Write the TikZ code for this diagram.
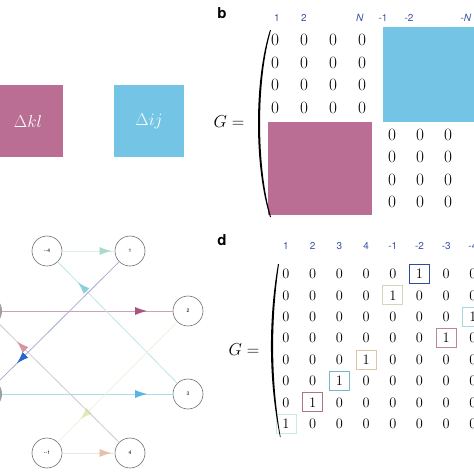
\documentclass[tikz,border=0pt]{standalone}
\usepackage{fontspec}
\newfontfamily\labfont{TeX Gyre Heros}
\usetikzlibrary{arrows.meta,decorations.markings}
\definecolor{pinkc}{HTML}{BA6E94}
\definecolor{bluec}{HTML}{74C5E5}
\definecolor{labblue}{HTML}{3A55A5}
\definecolor{nodegray}{HTML}{6E6E6E}
\definecolor{eAl}{HTML}{DCEFEA}\definecolor{eAa}{HTML}{A8DCCF}
\definecolor{eBl}{HTML}{EEE4DE}\definecolor{eBa}{HTML}{E6C0A8}
\definecolor{eCl}{HTML}{CCA2BA}\definecolor{eCa}{HTML}{AA5480}
\definecolor{eDl}{HTML}{AADCE8}\definecolor{eDa}{HTML}{5CB4E2}
\definecolor{eEl}{HTML}{BEE4E8}\definecolor{eEa}{HTML}{8CD0D8}
\definecolor{eFl}{HTML}{EEF2DE}\definecolor{eFa}{HTML}{E0EAB8}
\definecolor{eGl}{HTML}{D4C6D0}\definecolor{eGa}{HTML}{D8969E}
\definecolor{eHl}{HTML}{A4ACCC}\definecolor{eHa}{HTML}{2A64D0}
\definecolor{bx1}{HTML}{2E4C9E}
\definecolor{bx2}{HTML}{D6D6B4}
\definecolor{bx3}{HTML}{A6DADA}
\definecolor{bx4}{HTML}{B88898}
\definecolor{bx5}{HTML}{D8C6A6}
\definecolor{bx6}{HTML}{74B6D0}
\definecolor{bx7}{HTML}{A87686}
\definecolor{bx8}{HTML}{CBE8E2}
\tikzset{
  sq/.style={inner sep=0pt, text=white, font=\fontsize{19}{22}\selectfont, minimum width=70pt, minimum height=72pt},
  panel/.style={font=\labfont\bfseries\fontsize{15}{18}\selectfont, inner sep=0pt},
  clab/.style={font=\labfont\fontsize{10}{12}\selectfont, text=labblue, inner sep=0pt},
  zb/.style={font=\fontsize{17.5}{20}\selectfont, inner sep=0pt},
  zd/.style={font=\fontsize{15.5}{18}\selectfont, inner sep=0pt},
  gtxt/.style={font=\fontsize{18}{21}\selectfont, inner sep=0pt},
  net/.style={circle, draw=nodegray, line width=0.6pt, minimum size=30pt, inner sep=0pt, fill=white, font=\labfont\fontsize{5}{6}\selectfont},
  midarrow/.style 2 args={postaction={decorate}, decoration={markings, mark=at position #1 with {\arrow[color=#2]{Latex[length=12pt,width=8pt]}}}},
  edge/.style={line width=0.8pt}
}
\begin{document}
\begin{tikzpicture}[x=1pt,y=-1pt]
\path[use as bounding box] (0,0) rectangle (474,474);
\begin{scope}
\clip (0,0) rectangle (474,474);
% ---------- panel a
\node[sq, fill=pinkc] (kl) at (28,121) {$\Delta kl$};
\node[sq, fill=bluec] (ij) at (149,121) {$\Delta ij$};
% ---------- panel b
\node[panel] (pb) at (222,13) {b};
\foreach \t/\x in {1/277, 2/304, {\textit{N}}/360, -1/383, -2/409, {-\textit{N}}/466}
  \node[clab] (bc\x) at (\x,18) {\t};
\fill[bluec] (383,27) rectangle (480,122);
\fill[pinkc] (268,122) rectangle (372,215);
\foreach \r in {1,...,4} \foreach \c in {1,...,4}
  \node[zb] (b-\r-\c) at ({275+(\c-1)*29},{40+(\r-1)*22.6}) {$0$};
\foreach \r in {1,...,4} \foreach \c in {1,...,3}
  \node[zb] (bb-\r-\c) at ({392+(\c-1)*28},{135+(\r-1)*22.4}) {$0$};
\node[gtxt] (gb) at (229,122) {$G=$};
\fill (270,30) .. controls (254,80) and (254,167) .. (270,217) -- (271,217) .. controls (256.4,167) and (256.4,80) .. (271,30) -- cycle;
% ---------- panel d
\node[panel] (pd) at (222,240) {d};
\foreach \t [count=\c] in {1,2,3,4,-1,-2,-3,-4}
  \node[clab] (dc\c) at ({286+(\c-1)*26.7},246) {\t};
\node[gtxt] (gd) at (244,350) {$G=$};
\foreach \row [count=\r] in {{0,0,0,0,0,1,0,0},{0,0,0,0,1,0,0,0},{0,0,0,0,0,0,0,1},{0,0,0,0,0,0,1,0},{0,0,0,1,0,0,0,0},{0,0,1,0,0,0,0,0},{0,1,0,0,0,0,0,0},{1,0,0,0,0,0,0,0}}
  \foreach \v [count=\c] in \row
    \node[zd] (d-\r-\c) at ({286+(\c-1)*26.7},{274+(\r-1)*21.4}) {$\v$};
\foreach \r/\c in {1/6,2/5,3/8,4/7,5/4,6/3,7/2,8/1}
  \draw[bx\r, line width=0.9pt] ([shift={(-10,-9.5)}]d-\r-\c.center) rectangle ([shift={(10,9.5)}]d-\r-\c.center);
\fill (278,264) .. controls (268.3,320) and (268.3,380) .. (280,437) -- (280.6,437) .. controls (270.9,380) and (270.9,320) .. (279,264) -- cycle;
% ---------- panel c
\node[net] (m4) at (47,251) {--4};
\node[net] (n1) at (130,251) {1};
\node[net] (n2) at (188,311) {2};
\node[net] (n3) at (188,394) {3};
\node[net] (m1) at (47,453) {--1};
\node[net] (n4) at (130,453) {4};
\node[net, draw=gray!75, line width=2pt] (m3) at (-14,311) {};
\node[net, draw=gray!75, line width=2pt] (m2) at (-14,394) {};
\draw[edge, color=eAl, midarrow={0.94}{eAa}] (m4) -- (n1);
\draw[edge, color=eBl, midarrow={0.94}{eBa}] (m1) -- (n4);
\draw[edge, color=eCl, midarrow={0.85}{eCa}] (m3) -- (n2);
\draw[edge, color=eDl, midarrow={0.85}{eDa}] (m2) -- (n3);
\draw[edge, color=eEl, midarrow={0.83}{eEa}] (n3) -- (m4);
\draw[edge, color=eFl, midarrow={0.81}{eFa}] (n2) -- (m1);
\draw[edge, color=eGl, midarrow={0.84}{eGa}] (n4) -- (m3);
\draw[edge, color=eHl, midarrow={0.84}{eHa}] (n1) -- (m2);
\end{scope}
\end{tikzpicture}
\end{document}
